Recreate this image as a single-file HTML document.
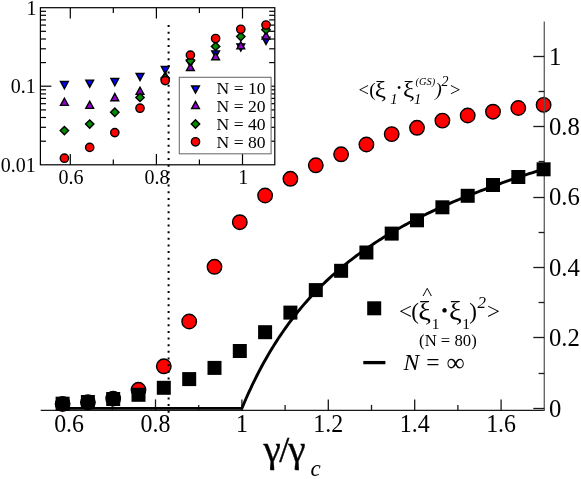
<!DOCTYPE html>
<html lang="en"><head><meta charset="utf-8"><title>Overlap vs gamma/gamma_c</title>
<style>html,body{margin:0;padding:0;background:#fff}body{width:581px;height:479px;overflow:hidden}svg text{white-space:pre}</style>
</head><body>
<svg width="581" height="479" viewBox="0 0 581 479" style="display:block">
<rect x="0" y="0" width="581" height="479" fill="#fff"/>
<g stroke="#1a1a1a" stroke-width="1.3" fill="none" stroke-linecap="butt">
<line x1="40.7" y1="410.4" x2="544.8" y2="410.4"/>
<line x1="544.3" y1="21.5" x2="544.3" y2="410.9" stroke="#666" stroke-width="1.4"/>
<line x1="69.1" y1="410.4" x2="69.1" y2="399.4"/>
<line x1="112.3" y1="410.4" x2="112.3" y2="404.9"/>
<line x1="155.5" y1="410.4" x2="155.5" y2="399.4"/>
<line x1="198.7" y1="410.4" x2="198.7" y2="404.9"/>
<line x1="241.9" y1="410.4" x2="241.9" y2="399.4"/>
<line x1="285.1" y1="410.4" x2="285.1" y2="404.9"/>
<line x1="328.3" y1="410.4" x2="328.3" y2="399.4"/>
<line x1="371.5" y1="410.4" x2="371.5" y2="404.9"/>
<line x1="414.7" y1="410.4" x2="414.7" y2="399.4"/>
<line x1="457.9" y1="410.4" x2="457.9" y2="404.9"/>
<line x1="501.1" y1="410.4" x2="501.1" y2="399.4"/>
<line x1="544.3" y1="408.5" x2="533.3" y2="408.5"/>
<line x1="544.3" y1="373.5" x2="538.5999999999999" y2="373.5"/>
<line x1="544.3" y1="337.5" x2="533.3" y2="337.5"/>
<line x1="544.3" y1="302.5" x2="538.5999999999999" y2="302.5"/>
<line x1="544.3" y1="267.5" x2="533.3" y2="267.5"/>
<line x1="544.3" y1="232.5" x2="538.5999999999999" y2="232.5"/>
<line x1="544.3" y1="197.5" x2="533.3" y2="197.5"/>
<line x1="544.3" y1="161.5" x2="538.5999999999999" y2="161.5"/>
<line x1="544.3" y1="126.5" x2="533.3" y2="126.5"/>
<line x1="544.3" y1="91.5" x2="538.5999999999999" y2="91.5"/>
<line x1="544.3" y1="56.5" x2="533.3" y2="56.5"/>
</g>
<g font-family="Liberation Serif, DejaVu Serif, serif" fill="#000">
<text transform="translate(69.10,432.30) scale(0.95,1)" font-size="25.2" text-anchor="middle">0.6</text>
<text transform="translate(155.50,432.30) scale(0.95,1)" font-size="25.2" text-anchor="middle">0.8</text>
<text transform="translate(241.90,432.30) scale(0.95,1)" font-size="25.2" text-anchor="middle">1</text>
<text transform="translate(328.30,432.30) scale(0.95,1)" font-size="25.2" text-anchor="middle">1.2</text>
<text transform="translate(414.70,432.30) scale(0.95,1)" font-size="25.2" text-anchor="middle">1.4</text>
<text transform="translate(501.10,432.30) scale(0.95,1)" font-size="25.2" text-anchor="middle">1.6</text>
<text transform="translate(549.00,416.80) scale(0.98,1)" font-size="25.2" text-anchor="start">0</text>
<text transform="translate(549.00,346.34) scale(0.98,1)" font-size="25.2" text-anchor="start">0.2</text>
<text transform="translate(549.00,275.88) scale(0.98,1)" font-size="25.2" text-anchor="start">0.4</text>
<text transform="translate(549.00,205.42) scale(0.98,1)" font-size="25.2" text-anchor="start">0.6</text>
<text transform="translate(549.00,134.96) scale(0.98,1)" font-size="25.2" text-anchor="start">0.8</text>
<text transform="translate(549.00,64.50) scale(0.98,1)" font-size="25.2" text-anchor="start">1</text>
</g>
<path d="M62.62,408.40 L241.90,408.40 L244.05,403.27 L246.20,398.29 L248.35,393.46 L250.50,388.78 L252.65,384.23 L254.80,379.81 L256.94,375.51 L259.09,371.33 L261.24,367.26 L263.39,363.31 L265.54,359.46 L267.69,355.71 L269.84,352.05 L271.99,348.49 L274.14,345.02 L276.29,341.64 L278.44,338.33 L280.59,335.11 L282.73,331.96 L284.88,328.89 L287.03,325.89 L289.18,322.95 L291.33,320.09 L293.48,317.28 L295.63,314.54 L297.78,311.86 L299.93,309.24 L302.08,306.67 L304.23,304.15 L306.38,301.69 L308.53,299.28 L310.67,296.91 L312.82,294.60 L314.97,292.33 L317.12,290.10 L319.27,287.92 L321.42,285.78 L323.57,283.68 L325.72,281.61 L327.87,279.59 L330.02,277.60 L332.17,275.65 L334.32,273.73 L336.46,271.85 L338.61,270.00 L340.76,268.18 L342.91,266.39 L345.06,264.64 L347.21,262.91 L349.36,261.21 L351.51,259.54 L353.66,257.89 L355.81,256.27 L357.96,254.68 L360.11,253.11 L362.26,251.57 L364.40,250.04 L366.55,248.55 L368.70,247.07 L370.85,245.62 L373.00,244.18 L375.15,242.77 L377.30,241.38 L379.45,240.00 L381.60,238.65 L383.75,237.31 L385.90,236.00 L388.05,234.70 L390.19,233.42 L392.34,232.15 L394.49,230.90 L396.64,229.67 L398.79,228.45 L400.94,227.25 L403.09,226.06 L405.24,224.89 L407.39,223.73 L409.54,222.59 L411.69,221.46 L413.84,220.34 L415.99,219.24 L418.13,218.15 L420.28,217.07 L422.43,216.00 L424.58,214.94 L426.73,213.90 L428.88,212.87 L431.03,211.85 L433.18,210.84 L435.33,209.84 L437.48,208.85 L439.63,207.87 L441.78,206.90 L443.92,205.94 L446.07,204.99 L448.22,204.05 L450.37,203.11 L452.52,202.19 L454.67,201.28 L456.82,200.37 L458.97,199.47 L461.12,198.58 L463.27,197.70 L465.42,196.82 L467.57,195.96 L469.72,195.10 L471.86,194.24 L474.01,193.40 L476.16,192.56 L478.31,191.73 L480.46,190.91 L482.61,190.09 L484.76,189.28 L486.91,188.47 L489.06,187.67 L491.21,186.88 L493.36,186.09 L495.51,185.31 L497.65,184.53 L499.80,183.76 L501.95,182.99 L504.10,182.23 L506.25,181.48 L508.40,180.73 L510.55,179.98 L512.70,179.24 L514.85,178.51 L517.00,177.77 L519.15,177.05 L521.30,176.32 L523.45,175.61 L525.59,174.89 L527.74,174.18 L529.89,173.48 L532.04,172.77 L534.19,172.08 L536.34,171.38 L538.49,170.69 L540.64,170.00 L542.79,169.32" fill="none" stroke="#000" stroke-width="2.9" stroke-linejoin="miter" stroke-linecap="butt"/>
<g fill="#ff0000" stroke="#000" stroke-width="1.4">
<circle cx="62.6" cy="404.0" r="7.25"/>
<circle cx="87.9" cy="402.3" r="7.25"/>
<circle cx="113.2" cy="398.6" r="7.25"/>
<circle cx="138.5" cy="389.8" r="7.25"/>
<circle cx="163.8" cy="366.3" r="7.25"/>
<circle cx="189.2" cy="321.5" r="7.25"/>
<circle cx="214.5" cy="266.8" r="7.25"/>
<circle cx="239.8" cy="222.2" r="7.25"/>
<circle cx="265.1" cy="195.5" r="7.25"/>
<circle cx="290.4" cy="178.8" r="7.25"/>
<circle cx="315.8" cy="165.3" r="7.25"/>
<circle cx="341.1" cy="154.3" r="7.25"/>
<circle cx="366.4" cy="144.5" r="7.25"/>
<circle cx="391.7" cy="134.1" r="7.25"/>
<circle cx="417.0" cy="127.8" r="7.25"/>
<circle cx="442.4" cy="120.6" r="7.25"/>
<circle cx="467.7" cy="115.5" r="7.25"/>
<circle cx="493.0" cy="111.7" r="7.25"/>
<circle cx="518.3" cy="108.0" r="7.25"/>
<circle cx="543.6" cy="104.9" r="7.25"/>
</g>
<g fill="#000">
<rect x="55.6" y="396.7" width="14" height="14"/>
<rect x="80.9" y="395.0" width="14" height="14"/>
<rect x="106.2" y="392.0" width="14" height="14"/>
<rect x="131.5" y="387.8" width="14" height="14"/>
<rect x="156.8" y="380.8" width="14" height="14"/>
<rect x="182.2" y="372.1" width="14" height="14"/>
<rect x="207.5" y="360.9" width="14" height="14"/>
<rect x="232.8" y="344.0" width="14" height="14"/>
<rect x="258.1" y="325.2" width="14" height="14"/>
<rect x="283.4" y="305.6" width="14" height="14"/>
<rect x="308.8" y="283.1" width="14" height="14"/>
<rect x="334.1" y="263.8" width="14" height="14"/>
<rect x="359.4" y="245.5" width="14" height="14"/>
<rect x="384.7" y="226.6" width="14" height="14"/>
<rect x="410.0" y="213.3" width="14" height="14"/>
<rect x="435.4" y="200.3" width="14" height="14"/>
<rect x="460.7" y="188.8" width="14" height="14"/>
<rect x="486.0" y="178.0" width="14" height="14"/>
<rect x="511.3" y="170.0" width="14" height="14"/>
<rect x="536.6" y="162.3" width="14" height="14"/>
</g>
<line x1="544.3" y1="96" x2="544.3" y2="114" stroke="#555" stroke-width="1.3"/>
<line x1="168.6" y1="25" x2="168.6" y2="413" stroke="#000" stroke-width="2" stroke-dasharray="2 4.65"/>
<g stroke="#000" stroke-width="1.2" fill="none">
<line x1="70.3" y1="7.7" x2="70.3" y2="18.5"/>
<line x1="70.3" y1="164.8" x2="70.3" y2="154.0"/>
<line x1="113.3" y1="7.7" x2="113.3" y2="13.100000000000001"/>
<line x1="113.3" y1="164.8" x2="113.3" y2="159.4"/>
<line x1="156.4" y1="7.7" x2="156.4" y2="18.5"/>
<line x1="156.4" y1="164.8" x2="156.4" y2="154.0"/>
<line x1="199.4" y1="7.7" x2="199.4" y2="13.100000000000001"/>
<line x1="199.4" y1="164.8" x2="199.4" y2="159.4"/>
<line x1="242.5" y1="7.7" x2="242.5" y2="18.5"/>
<line x1="242.5" y1="164.8" x2="242.5" y2="154.0"/>
<line x1="40.4" y1="11.3" x2="46.0" y2="11.3"/>
<line x1="274.8" y1="11.3" x2="269.2" y2="11.3"/>
<line x1="40.4" y1="15.3" x2="46.0" y2="15.3"/>
<line x1="274.8" y1="15.3" x2="269.2" y2="15.3"/>
<line x1="40.4" y1="19.9" x2="46.0" y2="19.9"/>
<line x1="274.8" y1="19.9" x2="269.2" y2="19.9"/>
<line x1="40.4" y1="25.1" x2="46.0" y2="25.1"/>
<line x1="274.8" y1="25.1" x2="269.2" y2="25.1"/>
<line x1="40.4" y1="31.3" x2="46.0" y2="31.3"/>
<line x1="274.8" y1="31.3" x2="269.2" y2="31.3"/>
<line x1="40.4" y1="39.0" x2="46.0" y2="39.0"/>
<line x1="274.8" y1="39.0" x2="269.2" y2="39.0"/>
<line x1="40.4" y1="48.8" x2="46.0" y2="48.8"/>
<line x1="274.8" y1="48.8" x2="269.2" y2="48.8"/>
<line x1="40.4" y1="62.6" x2="46.0" y2="62.6"/>
<line x1="274.8" y1="62.6" x2="269.2" y2="62.6"/>
<line x1="40.4" y1="86.2" x2="51.4" y2="86.2"/>
<line x1="274.8" y1="86.2" x2="263.8" y2="86.2"/>
<line x1="40.4" y1="89.8" x2="46.0" y2="89.8"/>
<line x1="274.8" y1="89.8" x2="269.2" y2="89.8"/>
<line x1="40.4" y1="93.9" x2="46.0" y2="93.9"/>
<line x1="274.8" y1="93.9" x2="269.2" y2="93.9"/>
<line x1="40.4" y1="98.4" x2="46.0" y2="98.4"/>
<line x1="274.8" y1="98.4" x2="269.2" y2="98.4"/>
<line x1="40.4" y1="103.7" x2="46.0" y2="103.7"/>
<line x1="274.8" y1="103.7" x2="269.2" y2="103.7"/>
<line x1="40.4" y1="109.9" x2="46.0" y2="109.9"/>
<line x1="274.8" y1="109.9" x2="269.2" y2="109.9"/>
<line x1="40.4" y1="117.5" x2="46.0" y2="117.5"/>
<line x1="274.8" y1="117.5" x2="269.2" y2="117.5"/>
<line x1="40.4" y1="127.3" x2="46.0" y2="127.3"/>
<line x1="274.8" y1="127.3" x2="269.2" y2="127.3"/>
<line x1="40.4" y1="141.2" x2="46.0" y2="141.2"/>
<line x1="274.8" y1="141.2" x2="269.2" y2="141.2"/>
</g>
<g stroke="#000" stroke-width="1.4" stroke-linejoin="miter">
<path d="M60.5,81.55 L68.3,81.55 L64.4,88.75 Z" fill="#0000ff"/>
<path d="M85.8,80.15 L93.6,80.15 L89.7,87.35 Z" fill="#0000ff"/>
<path d="M110.9,78.55 L118.7,78.55 L114.8,85.75 Z" fill="#0000ff"/>
<path d="M136.1,73.45 L143.9,73.45 L140.0,80.65 Z" fill="#0000ff"/>
<path d="M161.3,66.55 L169.1,66.55 L165.2,73.75 Z" fill="#0000ff"/>
<path d="M186.5,60.05 L194.3,60.05 L190.4,67.25 Z" fill="#0000ff"/>
<path d="M211.7,50.85 L219.5,50.85 L215.6,58.05 Z" fill="#0000ff"/>
<path d="M236.9,43.85 L244.7,43.85 L240.8,51.05 Z" fill="#0000ff"/>
<path d="M262.1,37.25 L269.9,37.25 L266.0,44.45 Z" fill="#0000ff"/>
<path d="M60.5,105.35 L68.3,105.35 L64.4,98.15 Z" fill="#9400d3"/>
<path d="M85.8,108.35 L93.6,108.35 L89.7,101.15 Z" fill="#9400d3"/>
<path d="M110.9,100.75 L118.7,100.75 L114.8,93.55 Z" fill="#9400d3"/>
<path d="M136.1,94.35 L143.9,94.35 L140.0,87.15 Z" fill="#9400d3"/>
<path d="M161.3,79.25 L169.1,79.25 L165.2,72.05 Z" fill="#9400d3"/>
<path d="M186.5,70.55 L194.3,70.55 L190.4,63.35 Z" fill="#9400d3"/>
<path d="M211.7,59.75 L219.5,59.75 L215.6,52.55 Z" fill="#9400d3"/>
<path d="M236.9,48.85 L244.7,48.85 L240.8,41.65 Z" fill="#9400d3"/>
<path d="M262.1,38.95 L269.9,38.95 L266.0,31.75 Z" fill="#9400d3"/>
<path d="M60.2,130.6 L64.4,126.4 L68.6,130.6 L64.4,134.8 Z" fill="#008b00"/>
<path d="M85.5,124.1 L89.7,119.9 L93.9,124.1 L89.7,128.3 Z" fill="#008b00"/>
<path d="M110.6,112.2 L114.8,108.0 L119.0,112.2 L114.8,116.4 Z" fill="#008b00"/>
<path d="M135.8,97.4 L140.0,93.2 L144.2,97.4 L140.0,101.6 Z" fill="#008b00"/>
<path d="M161.0,78.0 L165.2,73.8 L169.4,78.0 L165.2,82.2 Z" fill="#008b00"/>
<path d="M186.2,60.8 L190.4,56.6 L194.6,60.8 L190.4,65.0 Z" fill="#008b00"/>
<path d="M211.4,46.4 L215.6,42.2 L219.8,46.4 L215.6,50.6 Z" fill="#008b00"/>
<path d="M236.6,36.5 L240.8,32.3 L245.0,36.5 L240.8,40.7 Z" fill="#008b00"/>
<path d="M261.8,29.8 L266.0,25.6 L270.2,29.8 L266.0,34.0 Z" fill="#008b00"/>
<circle cx="64.4" cy="158.2" r="4.15" fill="#ff0000"/>
<circle cx="89.7" cy="147.4" r="4.15" fill="#ff0000"/>
<circle cx="114.8" cy="132.6" r="4.15" fill="#ff0000"/>
<circle cx="140.0" cy="108.2" r="4.15" fill="#ff0000"/>
<circle cx="165.2" cy="80.6" r="4.15" fill="#ff0000"/>
<circle cx="190.4" cy="55.1" r="4.15" fill="#ff0000"/>
<circle cx="215.6" cy="38.5" r="4.15" fill="#ff0000"/>
<circle cx="240.8" cy="29.3" r="4.15" fill="#ff0000"/>
<circle cx="266.0" cy="25.0" r="4.15" fill="#ff0000"/>
</g>
<rect x="40.4" y="7.7" width="234.4" height="157.10000000000002" fill="none" stroke="#000" stroke-width="1.2"/>
<rect x="179.3" y="77.3" width="91.80000000000001" height="76.50000000000001" fill="#fff" stroke="#707070" stroke-width="1.1"/>
<g stroke="#000" stroke-width="1.4">
<path d="M191.6,85.95 L199.4,85.95 L195.5,93.15 Z" fill="#0000ff"/>
<path d="M191.6,108.65 L199.4,108.65 L195.5,101.45 Z" fill="#9400d3"/>
<path d="M191.3,124.0 L195.5,119.8 L199.7,124.0 L195.5,128.2 Z" fill="#008b00"/>
<circle cx="195.5" cy="141.8" r="4.15" fill="#ff0000"/>
</g>
<g font-family="Liberation Serif, DejaVu Serif, serif" font-size="17" fill="#000">
<text x="216.6" y="94.2" textLength="49" lengthAdjust="spacingAndGlyphs">N = 10</text>
<text x="216.6" y="112.0" textLength="49" lengthAdjust="spacingAndGlyphs">N = 20</text>
<text x="216.6" y="129.8" textLength="49" lengthAdjust="spacingAndGlyphs">N = 40</text>
<text x="216.6" y="147.6" textLength="49" lengthAdjust="spacingAndGlyphs">N = 80</text>
</g>
<g font-family="Liberation Serif, DejaVu Serif, serif" font-size="20" fill="#000">
<text x="36.4" y="14.6" text-anchor="end">1</text>
<text x="35.8" y="93.0" text-anchor="end">0.1</text>
<text x="35.8" y="172" text-anchor="end">0.01</text>
<text x="71.0" y="184.3" text-anchor="middle">0.6</text>
<text x="157.1" y="184.3" text-anchor="middle">0.8</text>
<text x="243.2" y="184.3" text-anchor="middle">1</text>
</g>
<g font-family="Liberation Serif, DejaVu Serif, serif" fill="#000">
<text transform="translate(358.40,96.10) scale(0.95,1)" font-size="19.5">&lt;</text>
<text x="369.20" y="96.10" font-size="19.5">(</text>
<text transform="translate(374.70,96.50) scale(1.1,1)" font-size="22.9">ξ</text>
<text x="390.30" y="103.80" font-size="14.5" font-style="italic">1</text>
<text x="397.00" y="92.20" font-size="12">•</text>
<text transform="translate(403.00,96.50) scale(1.1,1)" font-size="22.9">ξ</text>
<text x="414.00" y="103.60" font-size="14.5" font-style="italic">1</text>
<text x="415.50" y="85.30" font-size="10" font-style="italic" textLength="19.6" lengthAdjust="spacingAndGlyphs">(GS)</text>
<text x="435.20" y="96.10" font-size="19.5" font-style="italic">)</text>
<text x="441.60" y="86.20" font-size="14" font-style="italic">2</text>
<text transform="translate(450.00,96.10) scale(0.95,1)" font-size="19.5">&gt;</text>
</g>
<rect x="367.2" y="301.3" width="14" height="14" fill="#000"/>
<g font-family="Liberation Serif, DejaVu Serif, serif" fill="#000">
<text x="399.00" y="319.00" font-size="23">&lt;</text>
<text x="411.30" y="319.00" font-size="23">(</text>
<text transform="translate(418.30,319.90) scale(1.05,1)" font-size="27">ξ</text>
<text x="431.80" y="328.90" font-size="15.4">1</text>
<text x="441.20" y="317.30" font-size="18.8">•</text>
<text transform="translate(448.90,319.90) scale(1.05,1)" font-size="27">ξ</text>
<text x="462.20" y="328.90" font-size="15.4">1</text>
<text x="469.30" y="319.00" font-size="23">)</text>
<text x="477.50" y="308.00" font-size="17" font-style="italic">2</text>
<text x="486.90" y="319.00" font-size="23">&gt;</text>
<text x="447.9" y="345.9" font-size="16.7" text-anchor="middle">(N = 80)</text>
<text x="403.50" y="369.70" font-size="23.6" font-style="italic">N</text>
<text x="426.20" y="369.70" font-size="23.6">=</text>
<text x="446.60" y="370.60" font-size="25.6">∞</text>
</g>
<text font-family="Liberation Serif, DejaVu Serif, serif" transform="translate(422.2,299.2) scale(1.06,0.85)" font-size="20" fill="#000">^</text>
<line x1="363.3" y1="362.6" x2="385.4" y2="362.6" stroke="#000" stroke-width="3.3"/>
<g font-family="Liberation Serif, DejaVu Serif, serif" fill="#000">
<text transform="translate(263.40,461.70) scale(1.03,1)" font-size="38" stroke="#000" stroke-width="0.35">γ</text>
<text x="279.30" y="461.60" font-size="36" stroke="#000" stroke-width="0.4">/</text>
<text transform="translate(288.30,461.70) scale(1.03,1)" font-size="38" stroke="#000" stroke-width="0.35">γ</text>
<text x="310.50" y="476.40" font-size="23" font-style="italic">c</text>
</g>
</svg>
</body></html>
